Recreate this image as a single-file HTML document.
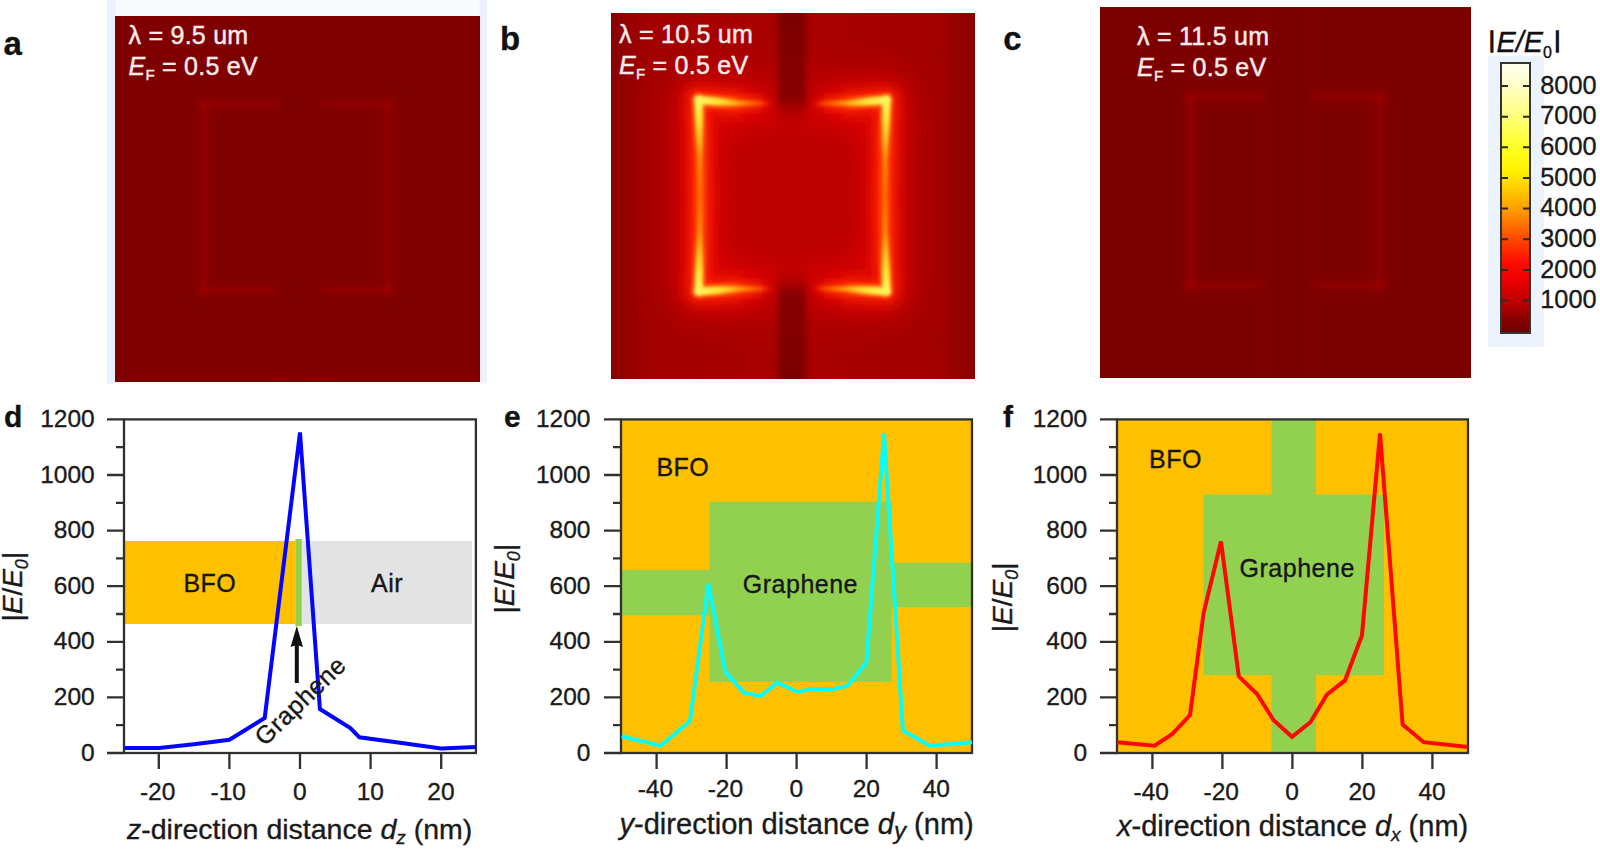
<!DOCTYPE html>
<html lang="en"><head><meta charset="utf-8"><title>Field enhancement figure</title>
<style>html,body{margin:0;padding:0;background:#fff;}body{width:1600px;height:850px;overflow:hidden;}svg{display:block;}text{font-family:"Liberation Sans", Arial, sans-serif;}
.tk{font-size:24.5px;fill:#1a1a1a;stroke:#1a1a1a;stroke-width:.35px;}.ax{font-size:28.8px;fill:#1a1a1a;stroke:#1a1a1a;stroke-width:.35px;}.pl{font-size:30px;font-weight:bold;fill:#111;stroke:#111;stroke-width:.3px;}.in{font-size:25px;letter-spacing:.5px;fill:#161616;stroke:#161616;stroke-width:.35px;}.wt{font-size:25px;fill:#fdeaea;stroke:#fdeaea;stroke-width:.45px;letter-spacing:.25px;}
</style></head><body>
<svg width="1600" height="850" viewBox="0 0 1600 850">
<defs>
<filter id="b1" x="-20%" y="-20%" width="140%" height="140%"><feGaussianBlur stdDeviation="1"/></filter>
<filter id="b15" x="-20%" y="-20%" width="140%" height="140%"><feGaussianBlur stdDeviation="1.6"/></filter>
<filter id="b2" x="-20%" y="-20%" width="140%" height="140%"><feGaussianBlur stdDeviation="2.1"/></filter>
<filter id="b3" x="-20%" y="-20%" width="140%" height="140%"><feGaussianBlur stdDeviation="3"/></filter>
<filter id="b6" x="-30%" y="-30%" width="160%" height="160%"><feGaussianBlur stdDeviation="6"/></filter>
<filter id="b12" x="-40%" y="-40%" width="180%" height="180%"><feGaussianBlur stdDeviation="12"/></filter>
<filter id="edge" x="-2%" y="-2%" width="104%" height="104%"><feGaussianBlur stdDeviation="0.7"/></filter>
<linearGradient id="hot" x1="0" y1="1" x2="0" y2="0"><stop offset="0" stop-color="#6c0000"/><stop offset="0.045" stop-color="#820000"/><stop offset="0.113" stop-color="#bc0000"/><stop offset="0.20" stop-color="#f00000"/><stop offset="0.26" stop-color="#ff0a00"/><stop offset="0.34" stop-color="#ff4200"/><stop offset="0.454" stop-color="#ff9a00"/><stop offset="0.53" stop-color="#ffca00"/><stop offset="0.60" stop-color="#fff200"/><stop offset="0.68" stop-color="#ffff20"/><stop offset="0.795" stop-color="#ffff74"/><stop offset="0.908" stop-color="#ffffc4"/><stop offset="1" stop-color="#fffff2"/></linearGradient>
<linearGradient id="bgb" x1="0" y1="0" x2="1" y2="0"><stop offset="0" stop-color="#8a0000"/><stop offset="0.10" stop-color="#a30000"/><stop offset="0.5" stop-color="#ab0000"/><stop offset="0.90" stop-color="#a30000"/><stop offset="1" stop-color="#8a0000"/></linearGradient>
<linearGradient id="gv" gradientUnits="userSpaceOnUse" x1="0" y1="99" x2="0" y2="292"><stop offset="0" stop-color="#ffe848"/><stop offset="0.14" stop-color="#ffc420"/><stop offset="0.32" stop-color="#ff8408"/><stop offset="0.5" stop-color="#ff6800"/><stop offset="0.68" stop-color="#ff8408"/><stop offset="0.86" stop-color="#ffc420"/><stop offset="1" stop-color="#ffe848"/></linearGradient>
<linearGradient id="gvc" gradientUnits="userSpaceOnUse" x1="0" y1="99" x2="0" y2="292"><stop offset="0" stop-color="#fff45e"/><stop offset="0.10" stop-color="#ffe63a" stop-opacity="0.9"/><stop offset="0.30" stop-color="#ffc020" stop-opacity="0"/><stop offset="0.70" stop-color="#ffc020" stop-opacity="0"/><stop offset="0.90" stop-color="#ffe63a" stop-opacity="0.9"/><stop offset="1" stop-color="#fff45e"/></linearGradient>
<linearGradient id="ghlc" gradientUnits="userSpaceOnUse" x1="698" y1="0" x2="772" y2="0"><stop offset="0" stop-color="#fff45e"/><stop offset="0.25" stop-color="#ffe63a" stop-opacity="0.9"/><stop offset="0.6" stop-color="#ffc020" stop-opacity="0"/><stop offset="1" stop-color="#ffc020" stop-opacity="0"/></linearGradient>
<linearGradient id="ghrc" gradientUnits="userSpaceOnUse" x1="887" y1="0" x2="813" y2="0"><stop offset="0" stop-color="#fff45e"/><stop offset="0.25" stop-color="#ffe63a" stop-opacity="0.9"/><stop offset="0.6" stop-color="#ffc020" stop-opacity="0"/><stop offset="1" stop-color="#ffc020" stop-opacity="0"/></linearGradient>
<linearGradient id="ghl" gradientUnits="userSpaceOnUse" x1="698" y1="0" x2="772" y2="0"><stop offset="0" stop-color="#fff25a"/><stop offset="0.30" stop-color="#ffd828"/><stop offset="0.62" stop-color="#ff8a08"/><stop offset="0.85" stop-color="#ff4a00" stop-opacity="0.8"/><stop offset="1" stop-color="#ff2000" stop-opacity="0"/></linearGradient>
<linearGradient id="ghr" gradientUnits="userSpaceOnUse" x1="887" y1="0" x2="813" y2="0"><stop offset="0" stop-color="#fff25a"/><stop offset="0.30" stop-color="#ffd828"/><stop offset="0.62" stop-color="#ff8a08"/><stop offset="0.85" stop-color="#ff4a00" stop-opacity="0.8"/><stop offset="1" stop-color="#ff2000" stop-opacity="0"/></linearGradient>
<filter id="b20" x="-50%" y="-50%" width="200%" height="200%"><feGaussianBlur stdDeviation="20"/></filter>
<linearGradient id="fl" gradientUnits="userSpaceOnUse" x1="698" y1="0" x2="772" y2="0"><stop offset="0" stop-color="#e00800"/><stop offset="0.55" stop-color="#e00800"/><stop offset="1" stop-color="#e00800" stop-opacity="0"/></linearGradient>
<linearGradient id="fr" gradientUnits="userSpaceOnUse" x1="887" y1="0" x2="813" y2="0"><stop offset="0" stop-color="#e00800"/><stop offset="0.55" stop-color="#e00800"/><stop offset="1" stop-color="#e00800" stop-opacity="0"/></linearGradient>
<linearGradient id="fl2" gradientUnits="userSpaceOnUse" x1="698" y1="0" x2="772" y2="0"><stop offset="0" stop-color="#fa1200"/><stop offset="0.55" stop-color="#fa1200"/><stop offset="1" stop-color="#fa1200" stop-opacity="0"/></linearGradient>
<linearGradient id="fr2" gradientUnits="userSpaceOnUse" x1="887" y1="0" x2="813" y2="0"><stop offset="0" stop-color="#fa1200"/><stop offset="0.55" stop-color="#fa1200"/><stop offset="1" stop-color="#fa1200" stop-opacity="0"/></linearGradient>
<linearGradient id="fl3" gradientUnits="userSpaceOnUse" x1="698" y1="0" x2="772" y2="0"><stop offset="0" stop-color="#ff4200"/><stop offset="0.5" stop-color="#ff4200"/><stop offset="1" stop-color="#ff4200" stop-opacity="0"/></linearGradient>
<linearGradient id="fr3" gradientUnits="userSpaceOnUse" x1="887" y1="0" x2="813" y2="0"><stop offset="0" stop-color="#ff4200"/><stop offset="0.5" stop-color="#ff4200"/><stop offset="1" stop-color="#ff4200" stop-opacity="0"/></linearGradient>
<linearGradient id="stT" x1="0" y1="0" x2="0" y2="1"><stop offset="0" stop-color="#7a0000"/><stop offset="0.74" stop-color="#860000"/><stop offset="0.84" stop-color="#a00000" stop-opacity="0.6"/><stop offset="1" stop-color="#b00000" stop-opacity="0"/></linearGradient>
<linearGradient id="stB" x1="0" y1="1" x2="0" y2="0"><stop offset="0" stop-color="#7a0000"/><stop offset="0.74" stop-color="#860000"/><stop offset="0.84" stop-color="#a00000" stop-opacity="0.6"/><stop offset="1" stop-color="#b00000" stop-opacity="0"/></linearGradient>
<clipPath id="ca"><rect x="115" y="16" width="365" height="366"/></clipPath>
<clipPath id="cb"><rect x="611" y="13" width="364" height="366"/></clipPath>
<clipPath id="cc"><rect x="1100" y="7" width="371" height="371"/></clipPath>
</defs>
<rect width="1600" height="850" fill="#ffffff"/>
<rect x="107" y="0" width="380" height="383.5" fill="#f8fbfe"/>
<rect x="107" y="0" width="8.5" height="383.5" fill="#e9f2fc"/>
<rect x="479.5" y="0" width="7.5" height="383.5" fill="#eef1fb"/>
<rect x="1488" y="56" width="56" height="291" fill="#edf3fc"/>
<g clip-path="url(#ca)">
<rect x="115" y="16" width="365" height="366" fill="#7e0000"/>
<g filter="url(#b3)" stroke="#8a0000" stroke-width="5" opacity="0.45"><path d="M279 0 V400 M319.5 0 V400"/></g>
<g filter="url(#b6)" stroke="#960000" stroke-width="13" fill="none" opacity="0.5"><path d="M277 104 H204 V290.5 H277"/><path d="M321.5 104 H388.5 V290.5 H321.5"/></g>
<g filter="url(#b15)" stroke="#9c0202" stroke-width="3.2" fill="none" opacity="0.62"><path d="M277 104 H204 V290.5 H277"/><path d="M321.5 104 H388.5 V290.5 H321.5"/></g>
<g filter="url(#b3)" fill="#a60404" opacity="0.55"><circle cx="204" cy="104" r="5"/><circle cx="204" cy="290.5" r="5"/><circle cx="388.5" cy="104" r="5"/><circle cx="388.5" cy="290.5" r="5"/></g>
</g>
<g clip-path="url(#cb)">
<rect x="611" y="13" width="364" height="366" fill="url(#bgb)"/>
<rect x="676" y="80" width="232" height="230" rx="20" fill="#c60000" filter="url(#b20)"/>
<rect x="700" y="104" width="185" height="184" fill="#cc0000" filter="url(#b6)"/>
<rect x="724" y="128" width="137" height="136" rx="30" fill="#bc0000" filter="url(#b12)"/>
<g filter="url(#b12)" stroke-width="40" fill="none" stroke-linecap="round" opacity="0.75"><path d="M698.5 99 Q701.7 195 698.5 292" stroke="#e00800"/><path d="M886.5 99 Q883.3 195 886.5 292" stroke="#e00800"/><path d="M698 100 L735 103 L772 103.5" stroke="url(#fl)"/><path d="M698 291.5 L735 289 L772 288.5" stroke="url(#fl)"/><path d="M887 100 L850 103 L813 103.5" stroke="url(#fr)"/><path d="M887 291.5 L850 289 L813 288.5" stroke="url(#fr)"/></g>
<g filter="url(#b6)" stroke-width="22" fill="none" stroke-linecap="round"><path d="M698.5 99 Q701.7 195 698.5 292" stroke="#fa1200"/><path d="M886.5 99 Q883.3 195 886.5 292" stroke="#fa1200"/><path d="M698 100 L735 103 L772 103.5" stroke="url(#fl2)"/><path d="M698 291.5 L735 289 L772 288.5" stroke="url(#fl2)"/><path d="M887 100 L850 103 L813 103.5" stroke="url(#fr2)"/><path d="M887 291.5 L850 289 L813 288.5" stroke="url(#fr2)"/></g>
<g filter="url(#b3)" stroke-width="12" fill="none" stroke-linecap="round"><path d="M698.5 99 Q701.7 195 698.5 292" stroke="#ff4200"/><path d="M886.5 99 Q883.3 195 886.5 292" stroke="#ff4200"/><path d="M698 100 L735 103 L772 103.5" stroke="url(#fl3)"/><path d="M698 291.5 L735 289 L772 288.5" stroke="url(#fl3)"/><path d="M887 100 L850 103 L813 103.5" stroke="url(#fr3)"/><path d="M887 291.5 L850 289 L813 288.5" stroke="url(#fr3)"/></g>
<g filter="url(#b3)"><rect x="778" y="0" width="28" height="132" fill="url(#stT)"/><rect x="778" y="260" width="28" height="134" fill="url(#stB)"/></g>
<g filter="url(#b15)" stroke-width="5.2" fill="none" stroke-linecap="round"><path d="M698.5 99 Q701.7 195 698.5 292" stroke="url(#gv)"/><path d="M886.5 99 Q883.3 195 886.5 292" stroke="url(#gv)"/><path d="M698 100 L735 103 L772 103.5" stroke="url(#ghl)"/><path d="M698 291.5 L735 289 L772 288.5" stroke="url(#ghl)"/><path d="M887 100 L850 103 L813 103.5" stroke="url(#ghr)"/><path d="M887 291.5 L850 289 L813 288.5" stroke="url(#ghr)"/></g>
<g filter="url(#b2)" stroke-width="8" fill="none" stroke-linecap="round"><path d="M698.5 99 Q701.7 195 698.5 292" stroke="url(#gvc)"/><path d="M886.5 99 Q883.3 195 886.5 292" stroke="url(#gvc)"/><path d="M698 100 L735 103 L772 103.5" stroke="url(#ghlc)"/><path d="M698 291.5 L735 289 L772 288.5" stroke="url(#ghlc)"/><path d="M887 100 L850 103 L813 103.5" stroke="url(#ghrc)"/><path d="M887 291.5 L850 289 L813 288.5" stroke="url(#ghrc)"/></g>
</g>
<g clip-path="url(#cc)">
<rect x="1100" y="7" width="371" height="371" fill="#7c0000"/>
<g filter="url(#b3)" stroke="#8a0000" stroke-width="5" opacity="0.45"><path d="M1264 0 V400 M1312 0 V400"/></g>
<g filter="url(#b6)" stroke="#960000" stroke-width="13" fill="none" opacity="0.5"><path d="M1262 97 H1190 V285 H1262"/><path d="M1314 97 H1380 V285 H1314"/></g>
<g filter="url(#b15)" stroke="#9c0202" stroke-width="3.2" fill="none" opacity="0.62"><path d="M1262 97 H1190 V285 H1262"/><path d="M1314 97 H1380 V285 H1314"/></g>
<g filter="url(#b3)" fill="#a60404" opacity="0.55"><circle cx="1190" cy="97" r="5"/><circle cx="1190" cy="285" r="5"/><circle cx="1380" cy="97" r="5"/><circle cx="1380" cy="285" r="5"/></g>
</g>
<text class="pl" style="font-size:33px" x="3.6" y="55">a</text>
<text class="pl" style="font-size:33px" x="500" y="50">b</text>
<text class="pl" style="font-size:33px" x="1003.2" y="50">c</text>
<text class="wt" x="128.5" y="44">λ = 9.5 um</text>
<text class="wt" x="128.5" y="74.5"><tspan font-style="italic">E</tspan><tspan font-size="15" dy="5">F</tspan><tspan dy="-5"> = 0.5 eV</tspan></text>
<text class="wt" x="619" y="43">λ = 10.5 um</text>
<text class="wt" x="619" y="73.5"><tspan font-style="italic">E</tspan><tspan font-size="15" dy="5">F</tspan><tspan dy="-5"> = 0.5 eV</tspan></text>
<text class="wt" x="1137" y="45">λ = 11.5 um</text>
<text class="wt" x="1137" y="75.5"><tspan font-style="italic">E</tspan><tspan font-size="15" dy="5">F</tspan><tspan dy="-5"> = 0.5 eV</tspan></text>
<rect x="1501" y="63" width="29" height="270" fill="url(#hot)" stroke="#333" stroke-width="2"/>
<path d="M1501 86.0 h7 M1530 86.0 h-7" stroke="#2a2a2a" stroke-width="2"/>
<text class="tk" style="font-size:25.3px" x="1540.3" y="93.6">8000</text>
<path d="M1501 116.7 h7 M1530 116.7 h-7" stroke="#2a2a2a" stroke-width="2"/>
<text class="tk" style="font-size:25.3px" x="1540.3" y="124.2">7000</text>
<path d="M1501 147.3 h7 M1530 147.3 h-7" stroke="#2a2a2a" stroke-width="2"/>
<text class="tk" style="font-size:25.3px" x="1540.3" y="154.9">6000</text>
<path d="M1501 177.9 h7 M1530 177.9 h-7" stroke="#2a2a2a" stroke-width="2"/>
<text class="tk" style="font-size:25.3px" x="1540.3" y="185.5">5000</text>
<path d="M1501 208.6 h7 M1530 208.6 h-7" stroke="#2a2a2a" stroke-width="2"/>
<text class="tk" style="font-size:25.3px" x="1540.3" y="216.2">4000</text>
<path d="M1501 239.2 h7 M1530 239.2 h-7" stroke="#2a2a2a" stroke-width="2"/>
<text class="tk" style="font-size:25.3px" x="1540.3" y="246.8">3000</text>
<path d="M1501 269.9 h7 M1530 269.9 h-7" stroke="#2a2a2a" stroke-width="2"/>
<text class="tk" style="font-size:25.3px" x="1540.3" y="277.5">2000</text>
<path d="M1501 300.5 h7 M1530 300.5 h-7" stroke="#2a2a2a" stroke-width="2"/>
<text class="tk" style="font-size:25.3px" x="1540.3" y="308.1">1000</text>
<text y="52" font-size="28.8" fill="#111" stroke="#111" stroke-width=".35"><tspan x="1488.9" y="47" font-size="21.9" stroke-width="1.3">|</tspan><tspan x="1496.6" y="52" font-style="italic">E</tspan><tspan font-style="italic">/E</tspan><tspan font-size="16" y="58">0</tspan><tspan x="1554.4" y="47" font-size="21.9" stroke-width="1.3">|</tspan></text>
<g filter="url(#edge)">
<rect x="125" y="541" width="170.5" height="83" fill="#ffc000"/>
<rect x="302" y="541" width="170" height="83" fill="#e3e3e3"/>
<rect x="295.4" y="539" width="6.4" height="87" fill="#92d050"/>
</g>
<rect x="124" y="419.4" width="351.9" height="333.6" fill="none" stroke="#303030" stroke-width="2.3"/>
<path d="M124 753.00 h-17 M124 725.20 h-8 M124 697.40 h-17 M124 669.60 h-8 M124 641.80 h-17 M124 614.00 h-8 M124 586.20 h-17 M124 558.40 h-8 M124 530.60 h-17 M124 502.80 h-8 M124 475.00 h-17 M124 447.20 h-8 M124 419.40 h-17" stroke="#303030" stroke-width="2.3" fill="none"/>
<text class="tk" text-anchor="end" x="94.7" y="760.6">0</text>
<text class="tk" text-anchor="end" x="94.7" y="705.0">200</text>
<text class="tk" text-anchor="end" x="94.7" y="649.4">400</text>
<text class="tk" text-anchor="end" x="94.7" y="593.8">600</text>
<text class="tk" text-anchor="end" x="94.7" y="538.2">800</text>
<text class="tk" text-anchor="end" x="94.7" y="482.6">1000</text>
<text class="tk" text-anchor="end" x="94.7" y="427.0">1200</text>
<path d="M158.80 753 v16 M229.40 753 v16 M300.00 753 v16 M370.60 753 v16 M441.20 753 v16" stroke="#303030" stroke-width="2.3" fill="none"/>
<text class="tk" text-anchor="middle" x="157.6" y="800.2">-20</text>
<text class="tk" text-anchor="middle" x="228.2" y="800.2">-10</text>
<text class="tk" text-anchor="middle" x="299.7" y="800.2">0</text>
<text class="tk" text-anchor="middle" x="370.3" y="800.2">10</text>
<text class="tk" text-anchor="middle" x="440.9" y="800.2">20</text>
<text class="ax" style="font-size:28px" text-anchor="middle" transform="translate(22.4 586.7) rotate(-90)">|<tspan font-style="italic">E</tspan>/<tspan font-style="italic">E</tspan><tspan font-size="18" font-style="italic" dy="6">0</tspan><tspan dy="-6">|</tspan></text>
<polyline points="124.5,748.1 159.0,748.0 194.0,744.2 229.4,739.7 264.7,718.0 300.0,432.5 319.9,709.0 350.4,728.0 359.4,737.3 400.0,742.7 441.0,748.5 476.0,747.0" fill="none" stroke="#0505ff" stroke-width="4" stroke-linejoin="miter" stroke-miterlimit="3"/>
<text class="in" x="183.4" y="591.6">BFO</text>
<text class="in" x="371" y="592">Air</text>
<path d="M296.8 683 V644" stroke="#111" stroke-width="4" fill="none"/>
<path d="M296.8 626 L303 647 L296.8 645 L290.6 647 Z" fill="#111"/>
<text class="in" transform="translate(264.8 746.9) rotate(-44)">Graphene</text>
<text class="ax" style="font-size:28.5px" x="127" y="839.2"><tspan font-style="italic">z</tspan>-direction distance <tspan font-style="italic">d</tspan><tspan font-size="19" font-style="italic" dy="5">z</tspan><tspan dy="-5"> (nm)</tspan></text>
<text class="pl" x="4" y="427.4">d</text>
<g filter="url(#edge)">
<rect x="621" y="419.4" width="351" height="333.6" fill="#ffc000"/>
<rect x="709.7" y="501.7" width="182" height="180.3" fill="#92d050"/>
<rect x="621" y="569.9" width="90" height="45.4" fill="#92d050"/>
<rect x="890" y="562.8" width="82" height="44.2" fill="#92d050"/>
</g>
<rect x="621" y="419.4" width="351" height="333.6" fill="none" stroke="#303030" stroke-width="2.3"/>
<path d="M621 753.00 h-17 M621 725.20 h-8 M621 697.40 h-17 M621 669.60 h-8 M621 641.80 h-17 M621 614.00 h-8 M621 586.20 h-17 M621 558.40 h-8 M621 530.60 h-17 M621 502.80 h-8 M621 475.00 h-17 M621 447.20 h-8 M621 419.40 h-17" stroke="#303030" stroke-width="2.3" fill="none"/>
<text class="tk" text-anchor="end" x="590.5" y="760.6">0</text>
<text class="tk" text-anchor="end" x="590.5" y="705.0">200</text>
<text class="tk" text-anchor="end" x="590.5" y="649.4">400</text>
<text class="tk" text-anchor="end" x="590.5" y="593.8">600</text>
<text class="tk" text-anchor="end" x="590.5" y="538.2">800</text>
<text class="tk" text-anchor="end" x="590.5" y="482.6">1000</text>
<text class="tk" text-anchor="end" x="590.5" y="427.0">1200</text>
<path d="M656.60 753 v16 M726.60 753 v16 M796.60 753 v16 M866.60 753 v16 M936.60 753 v16" stroke="#303030" stroke-width="2.3" fill="none"/>
<text class="tk" text-anchor="middle" x="655.4" y="797.4">-40</text>
<text class="tk" text-anchor="middle" x="725.4" y="797.4">-20</text>
<text class="tk" text-anchor="middle" x="796.3" y="797.4">0</text>
<text class="tk" text-anchor="middle" x="866.3" y="797.4">20</text>
<text class="tk" text-anchor="middle" x="936.3" y="797.4">40</text>
<text class="ax" style="font-size:28px" text-anchor="middle" transform="translate(513.5 578.7) rotate(-90)">|<tspan font-style="italic">E</tspan>/<tspan font-style="italic">E</tspan><tspan font-size="18" font-style="italic" dy="6">0</tspan><tspan dy="-6">|</tspan></text>
<polyline points="621.6,736.3 660.5,745.7 690.0,721.0 708.3,584.0 725.2,671.7 744.0,692.8 760.5,696.0 777.4,682.7 797.0,691.7 813.5,688.9 832.3,689.3 847.6,685.8 866.4,662.3 884.0,433.5 902.9,730.5 929.9,745.7 972.0,742.2" fill="none" stroke="#08fcf8" stroke-width="4" stroke-linejoin="miter" stroke-miterlimit="3"/>
<text class="in" x="656.4" y="476.4">BFO</text>
<text class="in" x="742.8" y="593.4">Graphene</text>
<text class="ax" style="font-size:29.05px" x="619.5" y="834.2"><tspan font-style="italic">y</tspan>-direction distance <tspan font-style="italic">d</tspan><tspan font-size="24" font-style="italic" dy="5">y</tspan><tspan dy="-5"> (nm)</tspan></text>
<text class="pl" x="504" y="427">e</text>
<g filter="url(#edge)">
<rect x="1117" y="419.4" width="351" height="333.6" fill="#ffc000"/>
<rect x="1203.4" y="494.6" width="180.4" height="180.6" fill="#92d050"/>
<rect x="1271.5" y="419.4" width="44.5" height="333.6" fill="#92d050"/>
</g>
<rect x="1117" y="419.4" width="351" height="333.6" fill="none" stroke="#303030" stroke-width="2.3"/>
<path d="M1117 753.00 h-17 M1117 725.20 h-8 M1117 697.40 h-17 M1117 669.60 h-8 M1117 641.80 h-17 M1117 614.00 h-8 M1117 586.20 h-17 M1117 558.40 h-8 M1117 530.60 h-17 M1117 502.80 h-8 M1117 475.00 h-17 M1117 447.20 h-8 M1117 419.40 h-17" stroke="#303030" stroke-width="2.3" fill="none"/>
<text class="tk" text-anchor="end" x="1087.2" y="760.6">0</text>
<text class="tk" text-anchor="end" x="1087.2" y="705.0">200</text>
<text class="tk" text-anchor="end" x="1087.2" y="649.4">400</text>
<text class="tk" text-anchor="end" x="1087.2" y="593.8">600</text>
<text class="tk" text-anchor="end" x="1087.2" y="538.2">800</text>
<text class="tk" text-anchor="end" x="1087.2" y="482.6">1000</text>
<text class="tk" text-anchor="end" x="1087.2" y="427.0">1200</text>
<path d="M1152.40 753 v16 M1222.40 753 v16 M1292.40 753 v16 M1362.40 753 v16 M1432.40 753 v16" stroke="#303030" stroke-width="2.3" fill="none"/>
<text class="tk" text-anchor="middle" x="1151.2" y="800.0">-40</text>
<text class="tk" text-anchor="middle" x="1221.2" y="800.0">-20</text>
<text class="tk" text-anchor="middle" x="1292.1" y="800.0">0</text>
<text class="tk" text-anchor="middle" x="1362.1" y="800.0">20</text>
<text class="tk" text-anchor="middle" x="1432.1" y="800.0">40</text>
<text class="ax" style="font-size:28px" text-anchor="middle" transform="translate(1011.6 597.3) rotate(-90)">|<tspan font-style="italic">E</tspan>/<tspan font-style="italic">E</tspan><tspan font-size="18" font-style="italic" dy="6">0</tspan><tspan dy="-6">|</tspan></text>
<polyline points="1117.0,742.2 1154.7,745.7 1172.3,734.0 1190.0,715.2 1203.6,613.0 1221.0,541.5 1238.8,676.4 1257.0,694.0 1273.4,720.0 1292.0,736.8 1310.4,722.2 1326.9,694.5 1345.0,680.4 1362.0,635.2 1380.0,433.5 1402.6,724.6 1423.7,742.2 1468.0,747.0" fill="none" stroke="#fc0800" stroke-width="4" stroke-linejoin="miter" stroke-miterlimit="3"/>
<text class="in" x="1149" y="468.3">BFO</text>
<text class="in" x="1239.6" y="577.4">Graphene</text>
<text class="ax" style="font-size:29px" x="1117" y="836.2"><tspan font-style="italic">x</tspan>-direction distance <tspan font-style="italic">d</tspan><tspan font-size="19" font-style="italic" dy="5">x</tspan><tspan dy="-5"> (nm)</tspan></text>
<text class="pl" x="1003" y="427">f</text>
</svg></body></html>
